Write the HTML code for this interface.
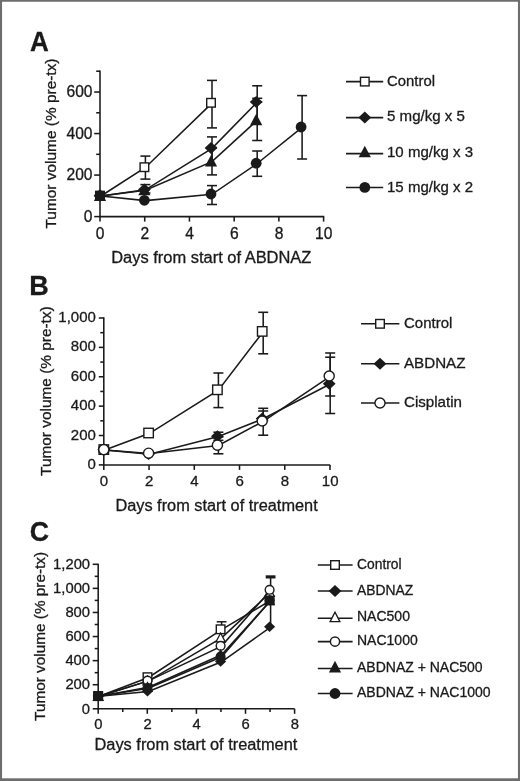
<!DOCTYPE html>
<html><head><meta charset="utf-8"><title>Figure</title>
<style>
html,body{margin:0;padding:0;background:#fff;}
body{width:520px;height:781px;overflow:hidden;position:relative;}
svg{position:absolute;left:0;top:0;display:block;}
svg text{font-family:"Liberation Sans",sans-serif;fill:#1a1a1a;stroke:#1a1a1a;stroke-width:0.3px;}
</style></head><body>
<svg width="520" height="781" viewBox="0 0 520 781" stroke="#1a1a1a" fill="none" shape-rendering="geometricPrecision">
<g id="panelA">
<text x="29.9" y="51.3" font-size="27" font-weight="bold" textLength="18.8" lengthAdjust="spacingAndGlyphs">A</text>
<line x1="100.00" y1="70.50" x2="100.00" y2="217.25" stroke-width="1.55"/>
<line x1="99.35" y1="216.60" x2="324.20" y2="216.60" stroke-width="1.55"/>
<line x1="94.20" y1="216.60" x2="100.00" y2="216.60" stroke-width="1.55"/>
<text x="92.5" y="221.5" font-size="15.6" text-anchor="end">0</text>
<line x1="96.20" y1="195.84" x2="100.00" y2="195.84" stroke-width="1.55"/>
<line x1="94.20" y1="175.08" x2="100.00" y2="175.08" stroke-width="1.55"/>
<text x="92.5" y="180.0" font-size="15.6" text-anchor="end">200</text>
<line x1="96.20" y1="154.32" x2="100.00" y2="154.32" stroke-width="1.55"/>
<line x1="94.20" y1="133.56" x2="100.00" y2="133.56" stroke-width="1.55"/>
<text x="92.5" y="138.5" font-size="15.6" text-anchor="end">400</text>
<line x1="96.20" y1="112.80" x2="100.00" y2="112.80" stroke-width="1.55"/>
<line x1="94.20" y1="92.04" x2="100.00" y2="92.04" stroke-width="1.55"/>
<text x="92.5" y="96.9" font-size="15.6" text-anchor="end">600</text>
<line x1="96.20" y1="71.20" x2="100.00" y2="71.20" stroke-width="1.55"/>
<line x1="100.00" y1="216.60" x2="100.00" y2="221.60" stroke-width="1.55"/>
<text x="100.2" y="239.4" font-size="15.6" text-anchor="middle">0</text>
<line x1="144.72" y1="216.60" x2="144.72" y2="221.60" stroke-width="1.55"/>
<text x="144.9" y="239.4" font-size="15.6" text-anchor="middle">2</text>
<line x1="189.44" y1="216.60" x2="189.44" y2="221.60" stroke-width="1.55"/>
<text x="189.6" y="239.4" font-size="15.6" text-anchor="middle">4</text>
<line x1="234.16" y1="216.60" x2="234.16" y2="221.60" stroke-width="1.55"/>
<text x="234.4" y="239.4" font-size="15.6" text-anchor="middle">6</text>
<line x1="278.88" y1="216.60" x2="278.88" y2="221.60" stroke-width="1.55"/>
<text x="279.1" y="239.4" font-size="15.6" text-anchor="middle">8</text>
<line x1="323.60" y1="216.60" x2="323.60" y2="221.60" stroke-width="1.55"/>
<text x="323.8" y="239.4" font-size="15.6" text-anchor="middle">10</text>
<text x="111.2" y="262.5" font-size="16" textLength="200.2" lengthAdjust="spacingAndGlyphs">Days from start of ABDNAZ</text>
<text x="55.7" y="228.5" font-size="15.2" textLength="170.0" lengthAdjust="spacingAndGlyphs" transform="rotate(-90 55.7 228.5)">Tumor volume (% pre-tx)</text>
<polyline points="101.00,196.00 145.40,200.60 212.00,194.30 257.20,163.50 302.10,127.30" fill="none" stroke-width="1.55"/>
<line x1="212.00" y1="185.60" x2="212.00" y2="204.50" stroke-width="1.55"/>
<line x1="207.00" y1="185.60" x2="217.00" y2="185.60" stroke-width="1.55"/>
<line x1="207.00" y1="204.50" x2="217.00" y2="204.50" stroke-width="1.55"/>
<line x1="257.20" y1="151.00" x2="257.20" y2="176.30" stroke-width="1.55"/>
<line x1="252.20" y1="151.00" x2="262.20" y2="151.00" stroke-width="1.55"/>
<line x1="252.20" y1="176.30" x2="262.20" y2="176.30" stroke-width="1.55"/>
<line x1="302.10" y1="95.60" x2="302.10" y2="159.00" stroke-width="1.55"/>
<line x1="297.10" y1="95.60" x2="307.10" y2="95.60" stroke-width="1.55"/>
<line x1="297.10" y1="159.00" x2="307.10" y2="159.00" stroke-width="1.55"/>
<circle cx="100.00" cy="195.70" r="5.40" fill="#1a1a1a" stroke="none"/>
<circle cx="144.40" cy="200.30" r="5.40" fill="#1a1a1a" stroke="none"/>
<circle cx="211.00" cy="194.00" r="5.40" fill="#1a1a1a" stroke="none"/>
<circle cx="256.20" cy="163.20" r="5.40" fill="#1a1a1a" stroke="none"/>
<circle cx="301.10" cy="127.00" r="5.40" fill="#1a1a1a" stroke="none"/>
<polyline points="101.00,196.00 145.40,190.30 212.00,161.60 257.20,120.30" fill="none" stroke-width="1.55"/>
<line x1="145.40" y1="184.60" x2="145.40" y2="193.00" stroke-width="1.55"/>
<line x1="140.40" y1="184.60" x2="150.40" y2="184.60" stroke-width="1.55"/>
<line x1="140.40" y1="193.00" x2="150.40" y2="193.00" stroke-width="1.55"/>
<line x1="212.00" y1="147.50" x2="212.00" y2="174.90" stroke-width="1.55"/>
<line x1="207.00" y1="147.50" x2="217.00" y2="147.50" stroke-width="1.55"/>
<line x1="207.00" y1="174.90" x2="217.00" y2="174.90" stroke-width="1.55"/>
<line x1="257.20" y1="98.30" x2="257.20" y2="140.50" stroke-width="1.55"/>
<line x1="252.20" y1="98.30" x2="262.20" y2="98.30" stroke-width="1.55"/>
<line x1="252.20" y1="140.50" x2="262.20" y2="140.50" stroke-width="1.55"/>
<polygon points="93.90,201.00 100.00,189.40 106.10,201.00" fill="#1a1a1a" stroke="none"/>
<polygon points="138.30,195.30 144.40,183.70 150.50,195.30" fill="#1a1a1a" stroke="none"/>
<polygon points="204.90,166.60 211.00,155.00 217.10,166.60" fill="#1a1a1a" stroke="none"/>
<polygon points="250.10,125.30 256.20,113.70 262.30,125.30" fill="#1a1a1a" stroke="none"/>
<line x1="212.00" y1="148.00" x2="212.00" y2="159.00" stroke-width="1.55"/>
<line x1="257.20" y1="101.90" x2="257.20" y2="117.50" stroke-width="1.55"/>
<polyline points="101.00,196.00 145.40,189.80 212.00,148.30 257.20,102.20" fill="none" stroke-width="1.55"/>
<line x1="212.00" y1="136.90" x2="212.00" y2="148.00" stroke-width="1.55"/>
<line x1="207.00" y1="136.90" x2="217.00" y2="136.90" stroke-width="1.55"/>
<line x1="207.00" y1="148.00" x2="217.00" y2="148.00" stroke-width="1.55"/>
<line x1="257.20" y1="85.80" x2="257.20" y2="101.90" stroke-width="1.55"/>
<line x1="252.20" y1="85.80" x2="262.20" y2="85.80" stroke-width="1.55"/>
<line x1="252.20" y1="101.90" x2="262.20" y2="101.90" stroke-width="1.55"/>
<polygon points="93.60,195.70 100.00,189.70 106.40,195.70 100.00,201.70" fill="#1a1a1a" stroke="none"/>
<polygon points="138.00,189.50 144.40,183.50 150.80,189.50 144.40,195.50" fill="#1a1a1a" stroke="none"/>
<polygon points="204.60,148.00 211.00,142.00 217.40,148.00 211.00,154.00" fill="#1a1a1a" stroke="none"/>
<polygon points="249.80,101.90 256.20,95.90 262.60,101.90 256.20,107.90" fill="#1a1a1a" stroke="none"/>
<polyline points="101.00,196.00 145.40,167.50 212.00,103.10" fill="none" stroke-width="1.55"/>
<line x1="145.40" y1="156.10" x2="145.40" y2="179.10" stroke-width="1.55"/>
<line x1="140.40" y1="156.10" x2="150.40" y2="156.10" stroke-width="1.55"/>
<line x1="140.40" y1="179.10" x2="150.40" y2="179.10" stroke-width="1.55"/>
<line x1="212.00" y1="80.40" x2="212.00" y2="127.90" stroke-width="1.55"/>
<line x1="207.00" y1="80.40" x2="217.00" y2="80.40" stroke-width="1.55"/>
<line x1="207.00" y1="127.90" x2="217.00" y2="127.90" stroke-width="1.55"/>
<rect x="95.70" y="191.40" width="8.60" height="8.60" fill="#fff" stroke-width="1.4"/>
<rect x="140.10" y="162.90" width="8.60" height="8.60" fill="#fff" stroke-width="1.4"/>
<rect x="206.70" y="98.50" width="8.60" height="8.60" fill="#fff" stroke-width="1.4"/>
<rect x="95.20" y="190.90" width="9.60" height="9.60" fill="#1a1a1a" stroke="none"/>
<line x1="346.00" y1="81.60" x2="383.20" y2="81.60" stroke-width="1.55"/>
<rect x="360.50" y="77.30" width="8.60" height="8.60" fill="#fff" stroke-width="1.4"/>
<text x="387.0" y="85.5" font-size="15" textLength="48.0" lengthAdjust="spacingAndGlyphs">Control</text>
<line x1="346.00" y1="117.60" x2="383.20" y2="117.60" stroke-width="1.55"/>
<polygon points="358.40,117.60 364.80,111.60 371.20,117.60 364.80,123.60" fill="#1a1a1a" stroke="none"/>
<text x="387.0" y="121.0" font-size="15" textLength="78.0" lengthAdjust="spacingAndGlyphs">5 mg/kg x 5</text>
<line x1="346.00" y1="153.60" x2="383.20" y2="153.60" stroke-width="1.55"/>
<polygon points="358.70,157.30 364.80,145.70 370.90,157.30" fill="#1a1a1a" stroke="none"/>
<text x="387.0" y="157.2" font-size="15" textLength="86.0" lengthAdjust="spacingAndGlyphs">10 mg/kg x 3</text>
<line x1="346.00" y1="187.40" x2="383.20" y2="187.40" stroke-width="1.55"/>
<circle cx="364.80" cy="187.40" r="5.40" fill="#1a1a1a" stroke="none"/>
<text x="387.0" y="191.5" font-size="15" textLength="86.0" lengthAdjust="spacingAndGlyphs">15 mg/kg x 2</text>
</g>
<g id="panelB">
<text x="29.2" y="294.6" font-size="27" font-weight="bold" textLength="19.5" lengthAdjust="spacingAndGlyphs">B</text>
<line x1="103.80" y1="317.35" x2="103.80" y2="465.55" stroke-width="1.55"/>
<line x1="103.15" y1="464.90" x2="330.20" y2="464.90" stroke-width="1.55"/>
<line x1="98.80" y1="464.90" x2="103.80" y2="464.90" stroke-width="1.55"/>
<text x="95.9" y="468.9" font-size="15.0" text-anchor="end">0</text>
<line x1="100.30" y1="450.21" x2="103.80" y2="450.21" stroke-width="1.55"/>
<line x1="98.80" y1="435.52" x2="103.80" y2="435.52" stroke-width="1.55"/>
<text x="95.9" y="439.5" font-size="15.0" text-anchor="end">200</text>
<line x1="100.30" y1="420.83" x2="103.80" y2="420.83" stroke-width="1.55"/>
<line x1="98.80" y1="406.14" x2="103.80" y2="406.14" stroke-width="1.55"/>
<text x="95.9" y="410.1" font-size="15.0" text-anchor="end">400</text>
<line x1="100.30" y1="391.45" x2="103.80" y2="391.45" stroke-width="1.55"/>
<line x1="98.80" y1="376.76" x2="103.80" y2="376.76" stroke-width="1.55"/>
<text x="95.9" y="380.8" font-size="15.0" text-anchor="end">600</text>
<line x1="100.30" y1="362.07" x2="103.80" y2="362.07" stroke-width="1.55"/>
<line x1="98.80" y1="347.38" x2="103.80" y2="347.38" stroke-width="1.55"/>
<text x="95.9" y="351.4" font-size="15.0" text-anchor="end">800</text>
<line x1="100.30" y1="332.69" x2="103.80" y2="332.69" stroke-width="1.55"/>
<line x1="98.80" y1="318.00" x2="103.80" y2="318.00" stroke-width="1.55"/>
<text x="95.9" y="322.0" font-size="15.0" text-anchor="end">1,000</text>
<line x1="103.80" y1="464.90" x2="103.80" y2="469.90" stroke-width="1.55"/>
<text x="104.0" y="486.2" font-size="15.0" text-anchor="middle">0</text>
<line x1="149.04" y1="464.90" x2="149.04" y2="469.90" stroke-width="1.55"/>
<text x="149.2" y="486.2" font-size="15.0" text-anchor="middle">2</text>
<line x1="194.28" y1="464.90" x2="194.28" y2="469.90" stroke-width="1.55"/>
<text x="194.5" y="486.2" font-size="15.0" text-anchor="middle">4</text>
<line x1="239.52" y1="464.90" x2="239.52" y2="469.90" stroke-width="1.55"/>
<text x="239.7" y="486.2" font-size="15.0" text-anchor="middle">6</text>
<line x1="284.76" y1="464.90" x2="284.76" y2="469.90" stroke-width="1.55"/>
<text x="285.0" y="486.2" font-size="15.0" text-anchor="middle">8</text>
<line x1="330.00" y1="464.90" x2="330.00" y2="469.90" stroke-width="1.55"/>
<text x="330.2" y="486.2" font-size="15.0" text-anchor="middle">10</text>
<text x="115.4" y="510.7" font-size="16" textLength="202.3" lengthAdjust="spacingAndGlyphs">Days from start of treatment</text>
<text x="51.5" y="475.9" font-size="15.2" textLength="169.6" lengthAdjust="spacingAndGlyphs" transform="rotate(-90 51.5 475.9)">Tumor volume (% pre-tx)</text>
<polyline points="104.80,449.90 149.60,454.30 218.40,436.50 263.20,418.80 330.20,384.00" fill="none" stroke-width="1.55"/>
<line x1="218.40" y1="432.20" x2="218.40" y2="440.30" stroke-width="1.55"/>
<line x1="213.40" y1="432.20" x2="223.40" y2="432.20" stroke-width="1.55"/>
<line x1="213.40" y1="440.30" x2="223.40" y2="440.30" stroke-width="1.55"/>
<line x1="263.20" y1="408.30" x2="263.20" y2="420.50" stroke-width="1.55"/>
<line x1="258.20" y1="408.30" x2="268.20" y2="408.30" stroke-width="1.55"/>
<line x1="258.20" y1="420.50" x2="268.20" y2="420.50" stroke-width="1.55"/>
<line x1="330.20" y1="353.00" x2="330.20" y2="413.50" stroke-width="1.55"/>
<line x1="325.20" y1="353.00" x2="335.20" y2="353.00" stroke-width="1.55"/>
<line x1="325.20" y1="413.50" x2="335.20" y2="413.50" stroke-width="1.55"/>
<polygon points="97.40,449.60 103.80,443.60 110.20,449.60 103.80,455.60" fill="#1a1a1a" stroke="none"/>
<polygon points="142.20,454.00 148.60,448.00 155.00,454.00 148.60,460.00" fill="#1a1a1a" stroke="none"/>
<polygon points="211.00,436.20 217.40,430.20 223.80,436.20 217.40,442.20" fill="#1a1a1a" stroke="none"/>
<polygon points="255.80,418.50 262.20,412.50 268.60,418.50 262.20,424.50" fill="#1a1a1a" stroke="none"/>
<polygon points="322.80,383.70 329.20,377.70 335.60,383.70 329.20,389.70" fill="#1a1a1a" stroke="none"/>
<polyline points="104.80,449.90 149.60,453.50 218.40,445.50 263.20,421.30 330.20,376.30" fill="none" stroke-width="1.55"/>
<line x1="218.40" y1="437.00" x2="218.40" y2="453.80" stroke-width="1.55"/>
<line x1="213.40" y1="437.00" x2="223.40" y2="437.00" stroke-width="1.55"/>
<line x1="213.40" y1="453.80" x2="223.40" y2="453.80" stroke-width="1.55"/>
<line x1="263.20" y1="411.00" x2="263.20" y2="435.20" stroke-width="1.55"/>
<line x1="258.20" y1="411.00" x2="268.20" y2="411.00" stroke-width="1.55"/>
<line x1="258.20" y1="435.20" x2="268.20" y2="435.20" stroke-width="1.55"/>
<line x1="330.20" y1="357.20" x2="330.20" y2="396.00" stroke-width="1.55"/>
<line x1="325.20" y1="357.20" x2="335.20" y2="357.20" stroke-width="1.55"/>
<line x1="325.20" y1="396.00" x2="335.20" y2="396.00" stroke-width="1.55"/>
<circle cx="103.80" cy="449.60" r="5.06" fill="#fff" stroke-width="1.4"/>
<circle cx="148.60" cy="453.20" r="5.06" fill="#fff" stroke-width="1.4"/>
<circle cx="217.40" cy="445.20" r="5.06" fill="#fff" stroke-width="1.4"/>
<circle cx="262.20" cy="421.00" r="5.06" fill="#fff" stroke-width="1.4"/>
<circle cx="329.20" cy="376.00" r="5.06" fill="#fff" stroke-width="1.4"/>
<polyline points="104.80,449.90 149.60,433.30 218.40,390.10 263.20,331.70" fill="none" stroke-width="1.55"/>
<line x1="218.40" y1="373.00" x2="218.40" y2="407.60" stroke-width="1.55"/>
<line x1="213.40" y1="373.00" x2="223.40" y2="373.00" stroke-width="1.55"/>
<line x1="213.40" y1="407.60" x2="223.40" y2="407.60" stroke-width="1.55"/>
<line x1="263.20" y1="312.30" x2="263.20" y2="353.80" stroke-width="1.55"/>
<line x1="258.20" y1="312.30" x2="268.20" y2="312.30" stroke-width="1.55"/>
<line x1="258.20" y1="353.80" x2="268.20" y2="353.80" stroke-width="1.55"/>
<rect x="99.07" y="444.87" width="9.46" height="9.46" fill="#fff" stroke-width="1.4"/>
<rect x="143.87" y="428.27" width="9.46" height="9.46" fill="#fff" stroke-width="1.4"/>
<rect x="212.67" y="385.07" width="9.46" height="9.46" fill="#fff" stroke-width="1.4"/>
<rect x="257.47" y="326.67" width="9.46" height="9.46" fill="#fff" stroke-width="1.4"/>
<circle cx="103.80" cy="449.60" r="5.06" fill="#fff" stroke-width="1.4"/>
<line x1="361.00" y1="323.80" x2="399.40" y2="323.80" stroke-width="1.55"/>
<rect x="375.70" y="319.50" width="8.60" height="8.60" fill="#fff" stroke-width="1.4"/>
<text x="404.0" y="328.1" font-size="14.8" textLength="48.3" lengthAdjust="spacingAndGlyphs">Control</text>
<line x1="361.00" y1="363.80" x2="399.40" y2="363.80" stroke-width="1.55"/>
<polygon points="373.60,363.80 380.00,357.80 386.40,363.80 380.00,369.80" fill="#1a1a1a" stroke="none"/>
<text x="404.0" y="368.1" font-size="14.8" textLength="61.5" lengthAdjust="spacingAndGlyphs">ABDNAZ</text>
<line x1="361.00" y1="403.00" x2="399.40" y2="403.00" stroke-width="1.55"/>
<circle cx="380.00" cy="403.00" r="5.06" fill="#fff" stroke-width="1.4"/>
<text x="404.0" y="407.3" font-size="14.8" textLength="58.0" lengthAdjust="spacingAndGlyphs">Cisplatin</text>
</g>
<g id="panelC">
<text x="29.7" y="540.8" font-size="27.8" font-weight="bold" textLength="19.3" lengthAdjust="spacingAndGlyphs">C</text>
<line x1="98.20" y1="563.65" x2="98.20" y2="709.45" stroke-width="1.55"/>
<line x1="97.55" y1="708.80" x2="294.60" y2="708.80" stroke-width="1.55"/>
<line x1="92.70" y1="708.80" x2="98.20" y2="708.80" stroke-width="1.55"/>
<text x="90.1" y="713.5" font-size="14.8" text-anchor="end">0</text>
<line x1="94.70" y1="696.76" x2="98.20" y2="696.76" stroke-width="1.55"/>
<line x1="92.70" y1="684.72" x2="98.20" y2="684.72" stroke-width="1.55"/>
<text x="90.1" y="689.4" font-size="14.8" text-anchor="end">200</text>
<line x1="94.70" y1="672.67" x2="98.20" y2="672.67" stroke-width="1.55"/>
<line x1="92.70" y1="660.63" x2="98.20" y2="660.63" stroke-width="1.55"/>
<text x="90.1" y="665.3" font-size="14.8" text-anchor="end">400</text>
<line x1="94.70" y1="648.59" x2="98.20" y2="648.59" stroke-width="1.55"/>
<line x1="92.70" y1="636.55" x2="98.20" y2="636.55" stroke-width="1.55"/>
<text x="90.1" y="641.2" font-size="14.8" text-anchor="end">600</text>
<line x1="94.70" y1="624.51" x2="98.20" y2="624.51" stroke-width="1.55"/>
<line x1="92.70" y1="612.47" x2="98.20" y2="612.47" stroke-width="1.55"/>
<text x="90.1" y="617.2" font-size="14.8" text-anchor="end">800</text>
<line x1="94.70" y1="600.42" x2="98.20" y2="600.42" stroke-width="1.55"/>
<line x1="92.70" y1="588.38" x2="98.20" y2="588.38" stroke-width="1.55"/>
<text x="90.1" y="593.1" font-size="14.8" text-anchor="end">1,000</text>
<line x1="94.70" y1="576.34" x2="98.20" y2="576.34" stroke-width="1.55"/>
<line x1="92.70" y1="564.30" x2="98.20" y2="564.30" stroke-width="1.55"/>
<text x="90.1" y="569.0" font-size="14.8" text-anchor="end">1,200</text>
<line x1="98.20" y1="708.80" x2="98.20" y2="713.80" stroke-width="1.55"/>
<text x="98.4" y="728.6" font-size="14.8" text-anchor="middle">0</text>
<line x1="122.75" y1="708.80" x2="122.75" y2="712.00" stroke-width="1.55"/>
<line x1="147.30" y1="708.80" x2="147.30" y2="713.80" stroke-width="1.55"/>
<text x="147.5" y="728.6" font-size="14.8" text-anchor="middle">2</text>
<line x1="171.85" y1="708.80" x2="171.85" y2="712.00" stroke-width="1.55"/>
<line x1="196.40" y1="708.80" x2="196.40" y2="713.80" stroke-width="1.55"/>
<text x="196.6" y="728.6" font-size="14.8" text-anchor="middle">4</text>
<line x1="220.95" y1="708.80" x2="220.95" y2="712.00" stroke-width="1.55"/>
<line x1="245.50" y1="708.80" x2="245.50" y2="713.80" stroke-width="1.55"/>
<text x="245.7" y="728.6" font-size="14.8" text-anchor="middle">6</text>
<line x1="270.05" y1="708.80" x2="270.05" y2="712.00" stroke-width="1.55"/>
<line x1="294.60" y1="708.80" x2="294.60" y2="713.80" stroke-width="1.55"/>
<text x="294.8" y="728.6" font-size="14.8" text-anchor="middle">8</text>
<text x="94.5" y="750.4" font-size="16" textLength="202.8" lengthAdjust="spacingAndGlyphs">Days from start of treatment</text>
<text x="45.1" y="720.9" font-size="15.2" textLength="169.0" lengthAdjust="spacingAndGlyphs" transform="rotate(-90 45.1 720.9)">Tumor volume (% pre-tx)</text>
<polyline points="99.20,696.30 148.50,677.50 221.60,629.60 270.60,600.50" fill="none" stroke-width="1.55"/>
<rect x="93.90" y="691.70" width="8.60" height="8.60" fill="#fff" stroke-width="1.4"/>
<rect x="143.20" y="672.90" width="8.60" height="8.60" fill="#fff" stroke-width="1.4"/>
<rect x="216.30" y="625.00" width="8.60" height="8.60" fill="#fff" stroke-width="1.4"/>
<rect x="265.30" y="595.90" width="8.60" height="8.60" fill="#fff" stroke-width="1.4"/>
<line x1="270.60" y1="600.00" x2="270.60" y2="627.00" stroke-width="1.55"/>
<polyline points="99.20,696.30 148.50,691.50 221.60,661.80 270.60,627.10" fill="none" stroke-width="1.55"/>
<polygon points="92.63,696.00 98.20,690.78 103.77,696.00 98.20,701.22" fill="#1a1a1a" stroke="none"/>
<polygon points="141.93,691.20 147.50,685.98 153.07,691.20 147.50,696.42" fill="#1a1a1a" stroke="none"/>
<polygon points="215.03,661.50 220.60,656.28 226.17,661.50 220.60,666.72" fill="#1a1a1a" stroke="none"/>
<polygon points="264.03,626.80 269.60,621.58 275.17,626.80 269.60,632.02" fill="#1a1a1a" stroke="none"/>
<polyline points="99.20,696.30 148.50,680.90 221.60,637.90 270.60,592.30" fill="none" stroke-width="1.55"/>
<polygon points="93.55,700.37 98.20,691.44 102.86,700.37" fill="#fff" stroke-width="1.3"/>
<polygon points="142.84,684.97 147.50,676.04 152.16,684.97" fill="#fff" stroke-width="1.3"/>
<polygon points="215.94,641.97 220.60,633.04 225.25,641.97" fill="#fff" stroke-width="1.3"/>
<polygon points="264.95,596.37 269.60,587.44 274.25,596.37" fill="#fff" stroke-width="1.3"/>
<polyline points="99.20,696.30 148.50,680.90 221.60,646.10 270.60,590.10" fill="none" stroke-width="1.55"/>
<circle cx="98.20" cy="696.00" r="4.37" fill="#fff" stroke-width="1.4"/>
<circle cx="147.50" cy="680.60" r="4.37" fill="#fff" stroke-width="1.4"/>
<circle cx="220.60" cy="645.80" r="4.37" fill="#fff" stroke-width="1.4"/>
<circle cx="269.60" cy="589.80" r="4.37" fill="#fff" stroke-width="1.4"/>
<polyline points="99.20,696.30 148.50,687.30 221.60,654.80 270.60,600.70" fill="none" stroke-width="1.55"/>
<polygon points="92.59,700.88 98.20,690.20 103.81,700.88" fill="#1a1a1a" stroke="none"/>
<polygon points="141.89,691.88 147.50,681.20 153.11,691.88" fill="#1a1a1a" stroke="none"/>
<polygon points="214.99,659.38 220.60,648.70 226.21,659.38" fill="#1a1a1a" stroke="none"/>
<polygon points="263.99,605.28 269.60,594.60 275.21,605.28" fill="#1a1a1a" stroke="none"/>
<polyline points="99.20,696.30 148.50,688.30 221.60,656.80 270.60,600.50" fill="none" stroke-width="1.55"/>
<circle cx="98.20" cy="696.00" r="4.97" fill="#1a1a1a" stroke="none"/>
<circle cx="147.50" cy="688.00" r="4.97" fill="#1a1a1a" stroke="none"/>
<circle cx="220.60" cy="656.50" r="4.97" fill="#1a1a1a" stroke="none"/>
<circle cx="269.60" cy="600.20" r="4.97" fill="#1a1a1a" stroke="none"/>
<line x1="221.60" y1="621.80" x2="221.60" y2="625.00" stroke-width="1.55"/>
<line x1="216.70" y1="621.80" x2="226.50" y2="621.80" stroke-width="1.5"/>
<line x1="270.60" y1="576.60" x2="270.60" y2="586.00" stroke-width="1.55"/>
<line x1="265.70" y1="576.90" x2="275.50" y2="576.90" stroke-width="3.2"/>
<rect x="93.40" y="691.50" width="9.60" height="9.60" fill="#1a1a1a" stroke="none"/>
<line x1="317.80" y1="565.00" x2="352.60" y2="565.00" stroke-width="1.55"/>
<rect x="330.70" y="560.70" width="8.60" height="8.60" fill="#fff" stroke-width="1.4"/>
<text x="357.0" y="568.9" font-size="14" textLength="44.6" lengthAdjust="spacingAndGlyphs">Control</text>
<line x1="317.80" y1="591.00" x2="352.60" y2="591.00" stroke-width="1.55"/>
<polygon points="328.60,591.00 335.00,585.00 341.40,591.00 335.00,597.00" fill="#1a1a1a" stroke="none"/>
<text x="357.0" y="594.5" font-size="14" textLength="56.3" lengthAdjust="spacingAndGlyphs">ABDNAZ</text>
<line x1="317.80" y1="618.30" x2="352.60" y2="618.30" stroke-width="1.55"/>
<polygon points="330.10,621.60 335.00,612.20 339.90,621.60" fill="#fff" stroke-width="1.3"/>
<text x="357.0" y="620.6" font-size="14">NAC500</text>
<line x1="317.80" y1="641.60" x2="352.60" y2="641.60" stroke-width="1.55"/>
<circle cx="335.00" cy="641.60" r="4.60" fill="#fff" stroke-width="1.4"/>
<text x="357.0" y="645.4" font-size="14">NAC1000</text>
<line x1="317.80" y1="668.40" x2="352.60" y2="668.40" stroke-width="1.55"/>
<polygon points="328.90,672.40 335.00,660.80 341.10,672.40" fill="#1a1a1a" stroke="none"/>
<text x="357.0" y="671.7" font-size="14">ABDNAZ + NAC500</text>
<line x1="317.80" y1="693.50" x2="352.60" y2="693.50" stroke-width="1.55"/>
<circle cx="335.00" cy="693.50" r="5.40" fill="#1a1a1a" stroke="none"/>
<text x="357.0" y="697.2" font-size="14" textLength="133.6" lengthAdjust="spacingAndGlyphs">ABDNAZ + NAC1000</text>
</g>
<g id="frame" stroke="none" fill="#6d6d6d"><rect x="0" y="0" width="520" height="1.75"/><rect x="0" y="0" width="2.05" height="781"/><rect x="517.95" y="0" width="2.05" height="781"/><rect x="0" y="778.3" width="520" height="2.7"/></g>
</svg>
</body></html>
